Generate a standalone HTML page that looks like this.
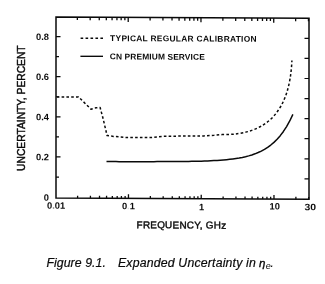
<!DOCTYPE html>
<html><head><meta charset="utf-8">
<style>
html,body{margin:0;padding:0;background:#fff;width:325px;height:284px;overflow:hidden}
svg{display:block;will-change:transform}
text{font-family:"Liberation Sans",sans-serif;fill:#0a0a0a}
.b{font-weight:bold}
</style></head><body>
<svg width="325" height="284" viewBox="0 0 325 284">
<rect width="325" height="284" fill="#fff"/>
<path d="M56.00 17.00L309.00 18.32L309.00 199.22L56.00 197.90Z" fill="none" stroke="#0a0a0a" stroke-width="1.5"/>
<path d="M77.60 198.01V195.71M77.35 17.11V20.11M90.42 198.08V195.78M90.17 17.18V20.18M99.51 198.13V195.83M99.26 17.23V20.23M106.56 198.16V195.86M106.31 17.26V20.26M112.32 198.19V195.89M112.07 17.29V20.29M117.19 198.22V195.92M116.94 17.32V20.32M121.41 198.24V195.94M121.16 17.34V20.34M125.13 198.26V195.96M124.88 17.36V20.36M128.46 198.28V194.28M128.21 17.38V21.88M150.36 198.39V196.09M150.11 17.49V20.49M163.18 198.46V196.16M162.93 17.56V20.56M172.27 198.51V196.21M172.02 17.61V20.61M179.32 198.54V196.24M179.07 17.64V20.64M185.08 198.57V196.27M184.83 17.67V20.67M189.95 198.60V196.30M189.70 17.70V20.70M194.17 198.62V196.32M193.92 17.72V20.72M197.89 198.64V196.34M197.64 17.74V20.74M201.22 198.66V194.66M200.97 17.76V22.26M223.13 198.77V196.47M222.88 17.87V20.87M235.94 198.84V196.54M235.69 17.94V20.94M245.03 198.88V196.58M244.78 17.98V20.98M252.08 198.92V196.62M251.83 18.02V21.02M257.84 198.95V196.65M257.59 18.05V21.05M262.71 198.98V196.68M262.46 18.08V21.08M266.93 199.00V196.70M266.68 18.10V21.10M270.65 199.02V196.72M270.40 18.12V21.12M273.98 199.04V195.04M273.73 18.14V22.64M295.89 199.15V196.85M295.64 18.25V21.25M308.70 199.22V196.92M308.45 18.32V21.32" stroke="#0a0a0a" stroke-width="1.3" fill="none"/>
<path d="M56.00 177.03H59.00M309.00 178.85H304.50M56.00 156.96H60.50M309.00 158.78H304.50M56.00 136.89H59.00M309.00 138.71H304.50M56.00 116.82H60.50M309.00 118.64H304.50M56.00 96.75H59.00M309.00 98.57H304.50M56.00 76.68H60.50M309.00 78.50H304.50M56.00 56.61H59.00M309.00 58.43H304.50M56.00 36.54H60.50M309.00 38.36H304.50" stroke="#0a0a0a" stroke-width="1.2" fill="none"/>
<path d="M56.80 96.90L78.50 96.90L91.00 109.20L95.90 107.80L100.10 107.50L103.00 118.30L107.10 135.60L113.50 136.40L127.00 137.50L150.00 137.60L163.00 136.30L180.00 136.10L204.00 135.90L214.00 135.30L222.00 134.60C266.69 135.19 289.73 111.79 291.9 60.5" fill="none" stroke="#0a0a0a" stroke-width="1.5" stroke-dasharray="2.6 2.2" stroke-linejoin="round"/>
<path d="M106.50 161.61L109.66 161.62L112.82 161.62L115.98 161.62L119.14 161.63L122.30 161.63L125.46 161.63L128.62 161.64L131.77 161.64L134.93 161.64L138.09 161.64L141.25 161.64L144.41 161.64L147.57 161.64L150.73 161.63L153.89 161.63L157.05 161.62L160.21 161.61L163.37 161.60L166.53 161.59L169.69 161.58L172.85 161.56L176.01 161.53L179.16 161.51L182.32 161.48L185.48 161.44L188.64 161.39L191.80 161.34L194.96 161.28L198.12 161.21L201.28 161.13L204.44 161.03L207.60 160.91L210.76 160.78L213.92 160.62L217.08 160.44L220.24 160.23L223.39 159.98L226.55 159.69L229.71 159.36L232.87 158.97L236.03 158.52L239.19 158.00L242.35 157.40L245.51 156.69L248.67 155.87L251.83 154.93L254.99 153.83L258.15 152.55L261.31 151.07L264.47 149.35L267.63 147.35L270.78 145.04L273.94 142.36L277.10 139.25L280.26 135.64L283.42 131.45L286.58 126.60L289.74 120.97L292.90 114.45" fill="none" stroke="#0a0a0a" stroke-width="1.5" stroke-linejoin="round"/>
<path d="M80.6 38.3H103.2" stroke="#0a0a0a" stroke-width="1.4" stroke-dasharray="2.6 2.35"/>
<path d="M80.4 56.3H103.0" stroke="#0a0a0a" stroke-width="1.35"/>
<g transform="matrix(1 0.0052 0 1 -0.291 0)">
<text class="b" x="110.4" y="40.5" font-size="8.4" textLength="146.5" lengthAdjust="spacing">TYPICAL REGULAR CALIBRATION</text>
<text class="b" x="110.1" y="58.8" font-size="8.4" textLength="95" lengthAdjust="spacing">CN PREMIUM SERVICE</text>
<text class="b" font-size="9.3" x="49.2" y="39.7" text-anchor="end">0.8</text>
<text class="b" font-size="9.3" x="49.2" y="79.7" text-anchor="end">0.6</text>
<text class="b" font-size="9.3" x="49.2" y="120" text-anchor="end">0.4</text>
<text class="b" font-size="9.3" x="49.2" y="160" text-anchor="end">0.2</text>
<text class="b" font-size="9.3" x="49.2" y="200.6" text-anchor="end">0</text>
<text class="b" font-size="9.3" x="47.2" y="208.4" textLength="18.3" lengthAdjust="spacing">0<tspan fill="#888">.</tspan>01</text>
<text class="b" font-size="9.3" x="122.2" y="208.6">0<tspan fill="#ddd">.</tspan>1</text>
<text class="b" font-size="9.3" x="202" y="209.2" text-anchor="middle">1</text>
<text class="b" font-size="9.3" x="269.8" y="208.1">10</text>
<text class="b" font-size="9.3" x="304.8" y="208.7" textLength="11.6" lengthAdjust="spacingAndGlyphs">30</text>
<text font-size="9.9" stroke="#0a0a0a" stroke-width="0.4" x="136.9" y="227.5" textLength="89.5" lengthAdjust="spacing">FREQUENCY, GHz</text>
</g>
<text font-size="10.6" stroke="#0a0a0a" stroke-width="0.45" transform="translate(25.0 170.9) rotate(-90)" textLength="125.5" lengthAdjust="spacingAndGlyphs">UNCERTAINTY, PERCENT</text>
<text font-size="12.3" font-style="italic" stroke="#0a0a0a" stroke-width="0.2" x="46.4" y="267.0" textLength="59.5" lengthAdjust="spacing">Figure 9.1.</text>
<text font-size="12.3" font-style="italic" stroke="#0a0a0a" stroke-width="0.2" x="118" y="267.3" textLength="137.8" lengthAdjust="spacing">Expanded Uncertainty in</text>
<text font-size="11.6" font-style="italic" stroke="#0a0a0a" stroke-width="0.35" x="258.9" y="266.8">η</text>
<text font-size="9" font-style="italic" x="265.8" y="268.6">e</text>
<text font-size="12" font-style="italic" x="270.6" y="267">.</text>
</svg>
</body></html>
